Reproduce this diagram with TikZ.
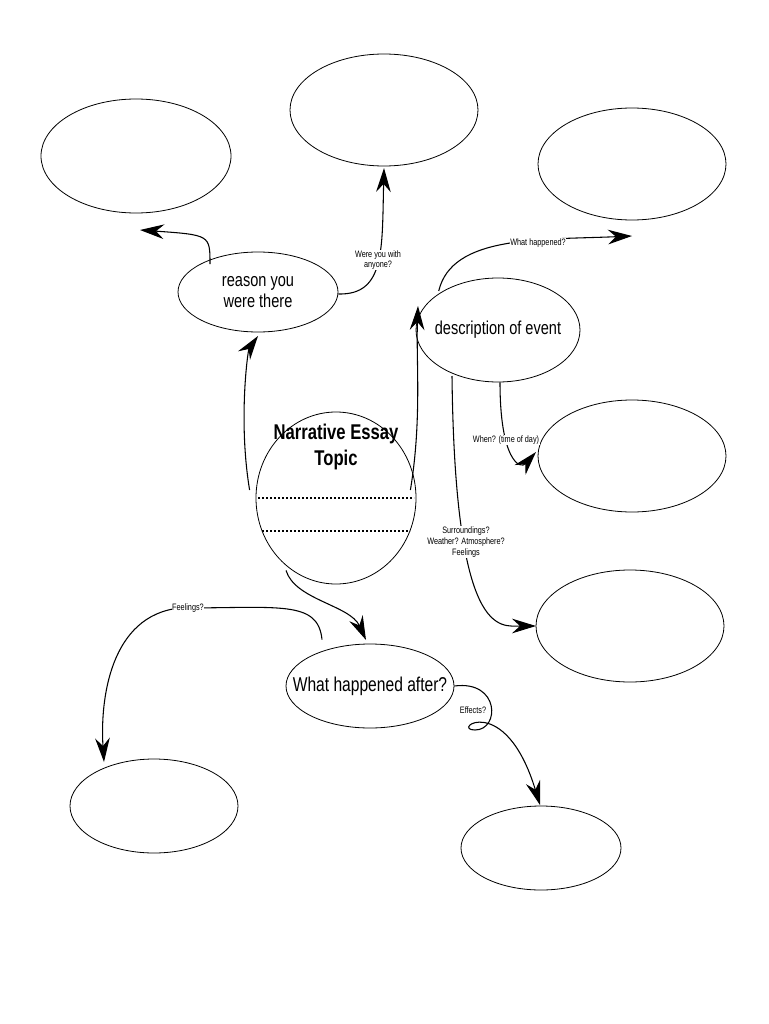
\documentclass[tikz,border=0pt]{standalone}
\usepackage{fontspec}
\setmainfont{Liberation Sans}[FakeStretch=0.78]
\usetikzlibrary{arrows.meta,shapes.geometric}
\begin{document}
\begin{tikzpicture}[x=0.75pt,y=-0.75pt,
  bub/.style={draw,ellipse,line width=0.6pt,inner sep=0pt},
  sz/.style n args={2}{minimum width=#1*0.75pt,minimum height=#2*0.75pt},
  con/.style={line width=0.8pt,-{Stealth[length=18pt,width=11pt,inset=6pt]}},
  lab/.style={font=\fontsize{7}{8}\selectfont,fill=white,inner sep=0.5pt,align=center},
  big/.style={font=\fontsize{14}{16}\selectfont,align=center}]
\useasboundingbox (0,0) rectangle (768,1024);
\node[bub,sz={190}{114}] (tl) at (136,156) {};
\node[bub,sz={188}{112}] (tc) at (384,110) {};
\node[bub,sz={188}{112}] (tr) at (632,164) {};
\node[bub,sz={160}{80}] (rs) at (258,292) {};
\node[big] (rst) at (258,292) {reason you\\were there};
\node[bub,sz={164}{104}] (de) at (498,330) {};
\node[big] (det) at (498,330) {description of event};
\node[bub,sz={160}{172}] (tp) at (336,498) {};
\node[big,font=\bfseries\fontsize{16}{19}\selectfont] (tt) at (336,447) {Narrative Essay\\Topic};
\node[bub,sz={188}{112}] (wh) at (632,456) {};
\node[bub,sz={188}{112}] (su) at (630,626) {};
\node[bub,sz={168}{84}] (af) at (370,686) {};
\node[big,font=\fontsize{15}{17}\selectfont] (aft) at (370,686) {What happened after?};
\node[bub,sz={168}{94}] (bl) at (154,806) {};
\node[bub,sz={160}{84}] (br) at (541,848) {};
\coordinate (d1a) at (258,498); \coordinate (d1b) at (414,498);
\coordinate (d2a) at (262,531); \coordinate (d2b) at (410,531);
\draw[line width=2.2pt,dash pattern=on 1.6pt off 1.4pt] (d1a) -- (d1b);
\draw[line width=2.2pt,dash pattern=on 1.6pt off 1.4pt] (d2a) -- (d2b);
% connectors
\draw[con] (rs.center) ++(-48,-28) .. controls (210,235) .. (140,230);
\draw[con] (rs.east) ++(0,2) .. controls (385,295) and (382,250) .. (384,168);
\node[lab] at (378,260) {Were you with\\anyone?};
\draw[con] (tp.west) ++(-6,-8) .. controls (238,420) and (248,350) .. (258,336);
\draw[con] (tp.east) ++(-6,-8) .. controls (422,420) and (416,360) .. (418,306);
\draw[con] (de.north west) ++(-1,-2) .. controls (452,235) and (540,240) .. (632,236);
\node[lab] at (538,243) {What happened?};
\draw[con] (de.south) ++(2,0) .. controls (500,460) and (520,470) .. (536,452);
\node[lab] at (506,440) {When? (time of day)};
\draw[con] (de.center) ++(-46,46) .. controls (455,640) and (500,626) .. (536,626);
\node[lab] at (466,542) {Surroundings?\\Weather? Atmosphere?\\Feelings};
\draw[con] (tp.south) ++(-50,-14) .. controls (295,600) and (350,605) .. (366,640);
\draw[con] (af.north) ++(-48,-4) .. controls (318,600) and (280,608) .. (180,608)
  .. controls (110,615) and (100,700) .. (104,762);
\node[lab] at (188,608) {Feelings?};
\draw[con] (af.east) .. controls (500,680) and (500,730) .. (475,730)
  .. controls (450,730) and (505,690) .. (540,805);
\node[lab] at (473,710) {Effects?};
\end{tikzpicture}
\end{document}
